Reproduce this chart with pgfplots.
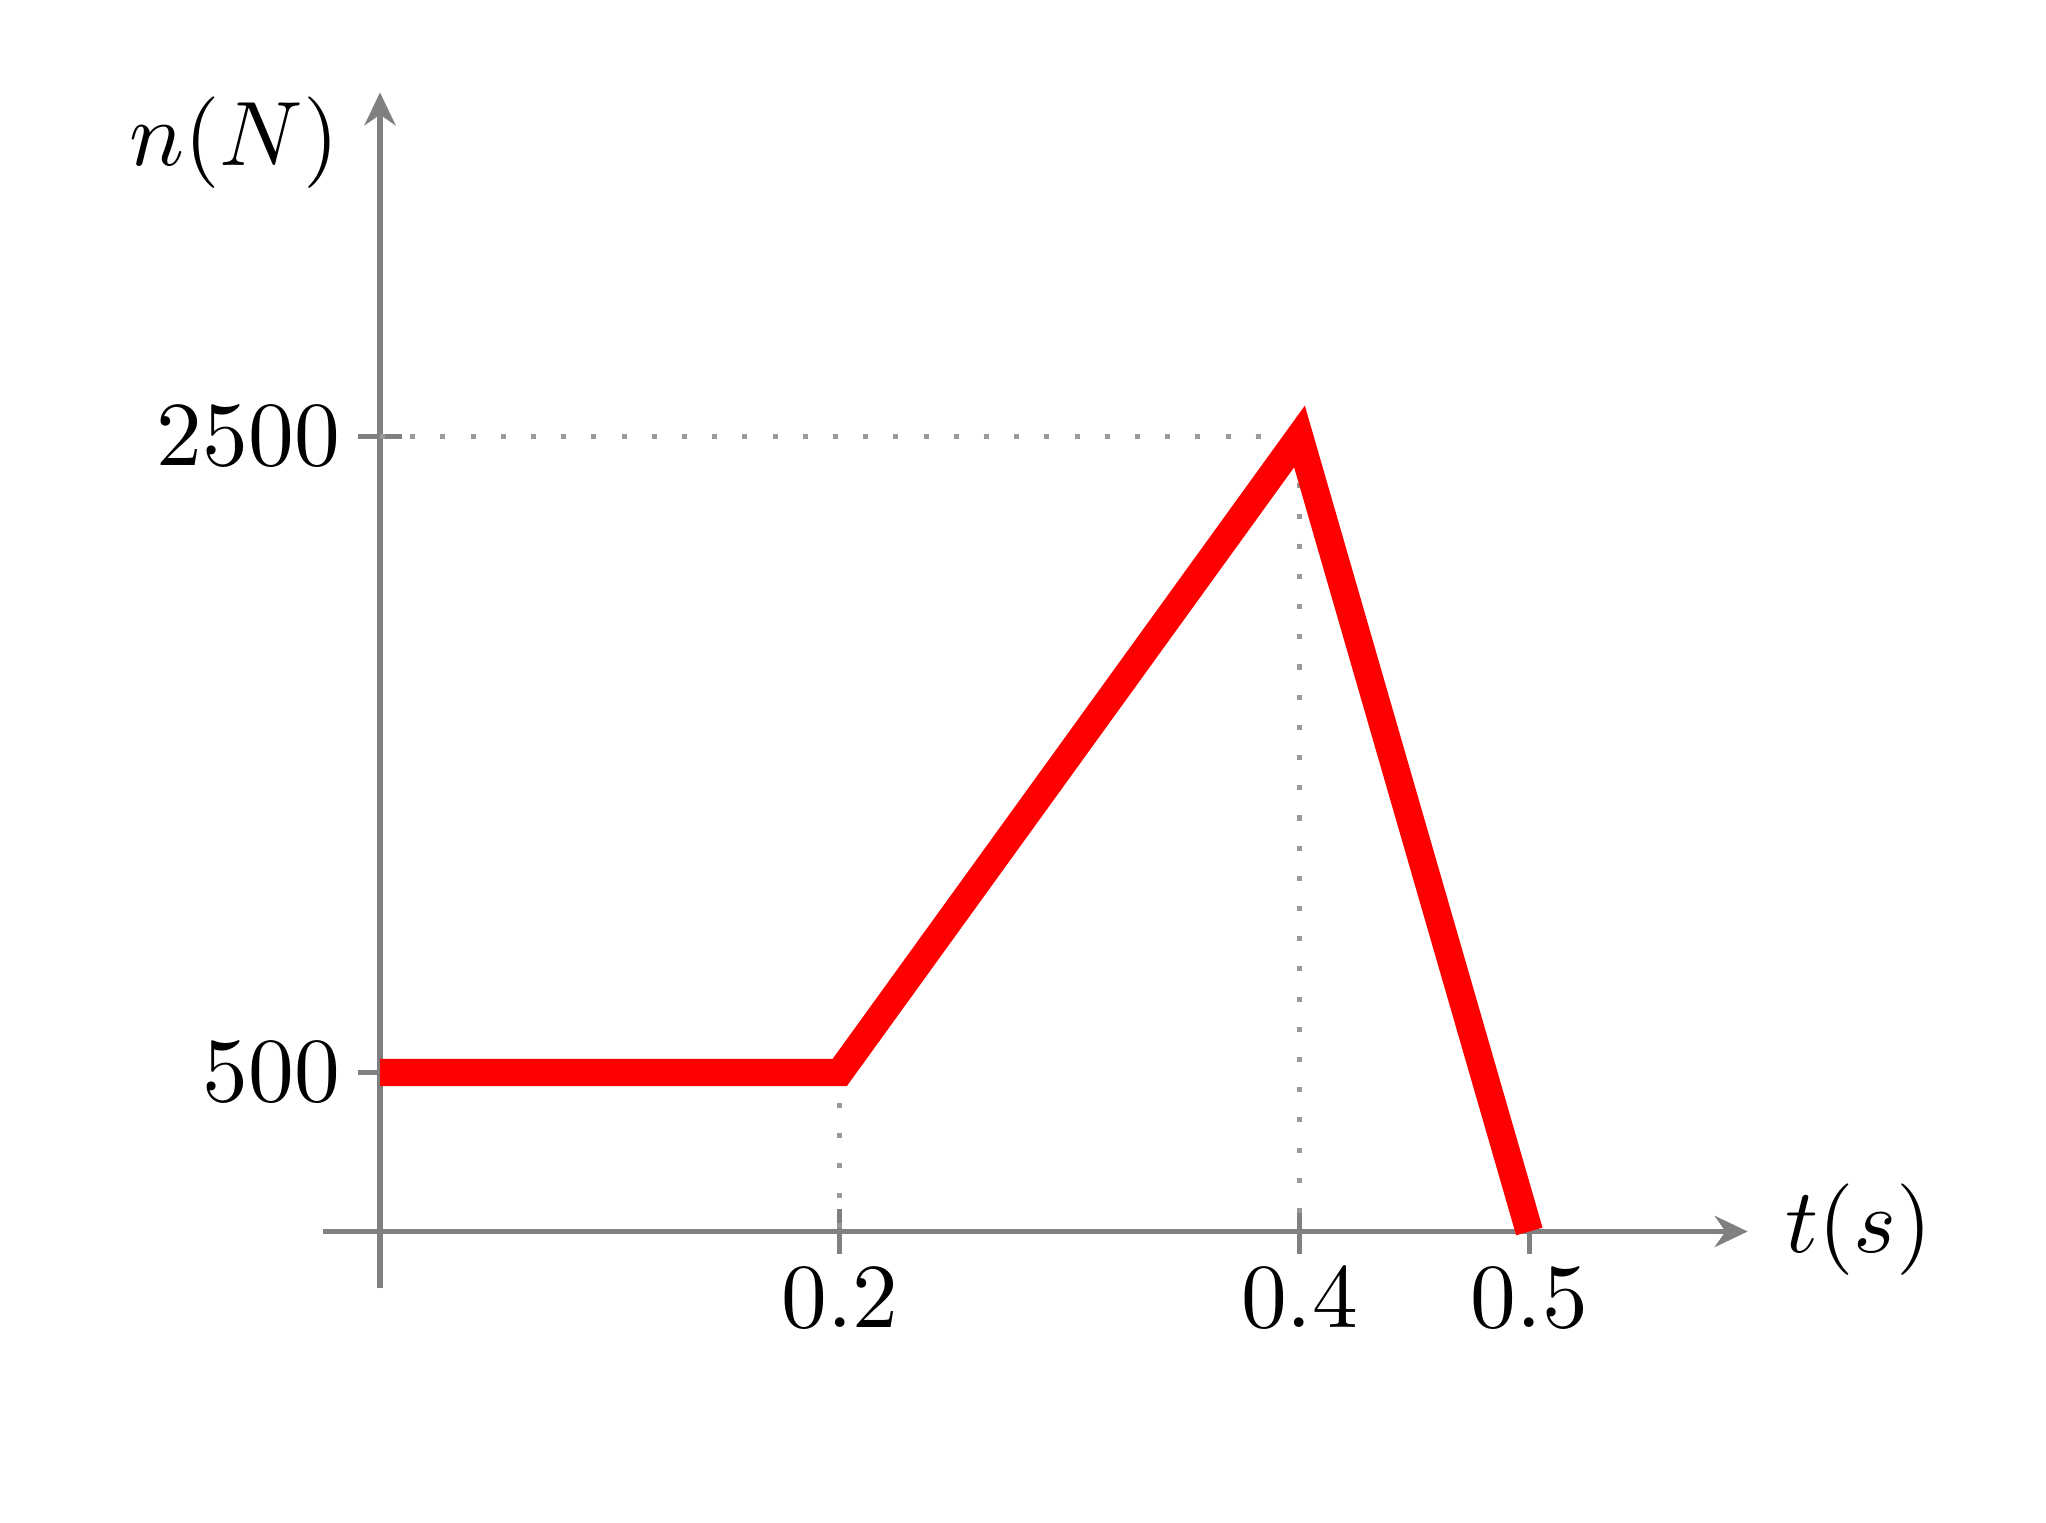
\documentclass[border=0pt]{standalone}
\usepackage{pgfplots}
\pgfplotsset{compat=1.18}
\usetikzlibrary{arrows.meta}
\begin{document}
\begin{tikzpicture}
\begin{axis}[
  scale only axis, width=155.7pt, height=130.7pt,
  axis lines=middle,
  axis line style={gray, line width=0.6pt, -{Stealth[length=3.6pt,width=3.4pt]}},
  xmin=-0.0248, xmax=0.595, ymin=-179, ymax=3582,
  xtick={0.2,0.4,0.5}, ytick={500,2500},
  xticklabels={$0.2$,$0.4$,$0.5$},
  yticklabels={$500$,$2500$},
  xticklabel style={yshift=1.9pt},
  yticklabel style={xshift=1.6pt},
  tick style={gray, line width=0.6pt},
  tick align=center,
  major tick length=4.9pt,
  xlabel={$t(s)$}, ylabel={$n(N)$},
  xlabel style={at={(axis description cs:1.0779,0.049)}, anchor=center},
  ylabel style={at={(axis description cs:-0.0625,0.958)}, anchor=center},
  clip=false,
]
\addplot[gray!80, line width=0.55pt, dash pattern=on 0.55pt off 2.75pt] coordinates {(0,2500) (0.4,2500) (0.4,0)};
\addplot[gray!80, line width=0.55pt, dash pattern=on 0.55pt off 2.75pt] coordinates {(0.2,500) (0.2,0)};
\addplot[red, line width=3pt, line join=miter] coordinates {(0,500) (0.2,500) (0.4,2500) (0.5,0)};
\end{axis}
\pgfresetboundingbox
\path (current axis.south west) ++(-35.3pt,-25.6pt) rectangle ++(223.6pt,166.4pt);
\end{tikzpicture}
\end{document}
